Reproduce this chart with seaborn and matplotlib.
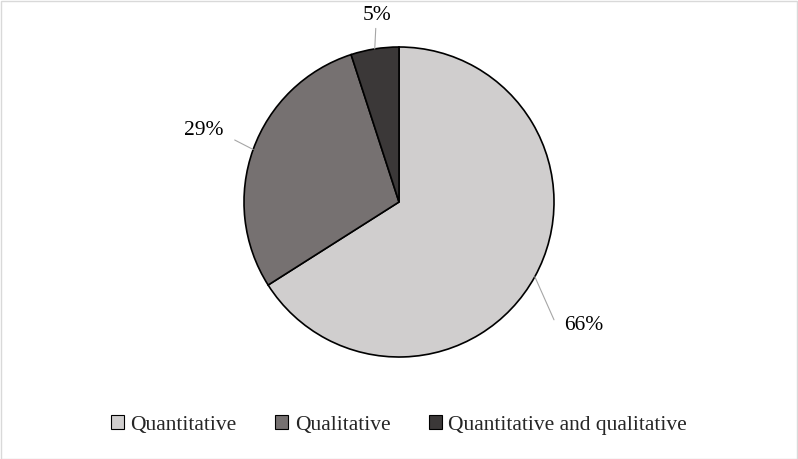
import matplotlib
matplotlib.use("Agg")
import matplotlib.pyplot as plt
import seaborn as sns
import numpy as np
from matplotlib.patches import Rectangle

sns.set_theme(style="white")
plt.rcParams['font.family'] = ['Liberation Serif', 'DejaVu Serif']

categories = ["Quantitative", "Qualitative", "Quantitative and qualitative"]
values = [66, 29, 5]
labels = ["66%", "29%", "5%"]
colors = ["#d0cece", "#767171", "#3b3838"]

fig = plt.figure(figsize=(7.98, 4.59), dpi=100)
fig.patches.append(Rectangle((0.001, 0.001), 0.998, 0.997, transform=fig.transFigure,
                             fill=False, edgecolor="#d9d9d9", lw=1))
ax = fig.add_axes([(399 - 155) / 798, 102 / 459, 310 / 798, 310 / 459])
wedges, _ = ax.pie(values, colors=colors, startangle=90, counterclock=False,
                   wedgeprops=dict(edgecolor="black", linewidth=1.2))
ax.set_xlim(-1, 1); ax.set_ylim(-1, 1); ax.set_aspect("equal")

label_pos = [(1.19, -0.80), (-1.26, 0.46), (-0.14, 1.20)]
line_end = [(1.0, -0.76), (-1.06, 0.40), (-0.15, 1.12)]
for w, lab, (lx, ly), (ex, ey) in zip(wedges, labels, label_pos, line_end):
    ang = np.deg2rad((w.theta1 + w.theta2) / 2)
    sx, sy = np.cos(ang), np.sin(ang)
    ax.plot([sx, ex], [sy, ey], color="#a6a6a6", lw=0.8, clip_on=False)
    ax.text(lx, ly, lab, ha="center", va="center", fontsize=15.5, color="#000000")

handles = [Rectangle((0, 0), 1, 1, facecolor=c, edgecolor="black", lw=0.8) for c in colors]
fig.legend(handles, categories, loc="center", bbox_to_anchor=(0.5, 1 - 425 / 459),
           ncol=3, frameon=False, fontsize=15.5, handlelength=0.6, handleheight=0.6,
           columnspacing=1.8, handletextpad=0.3)
fig.savefig("out.png", dpi=100)
